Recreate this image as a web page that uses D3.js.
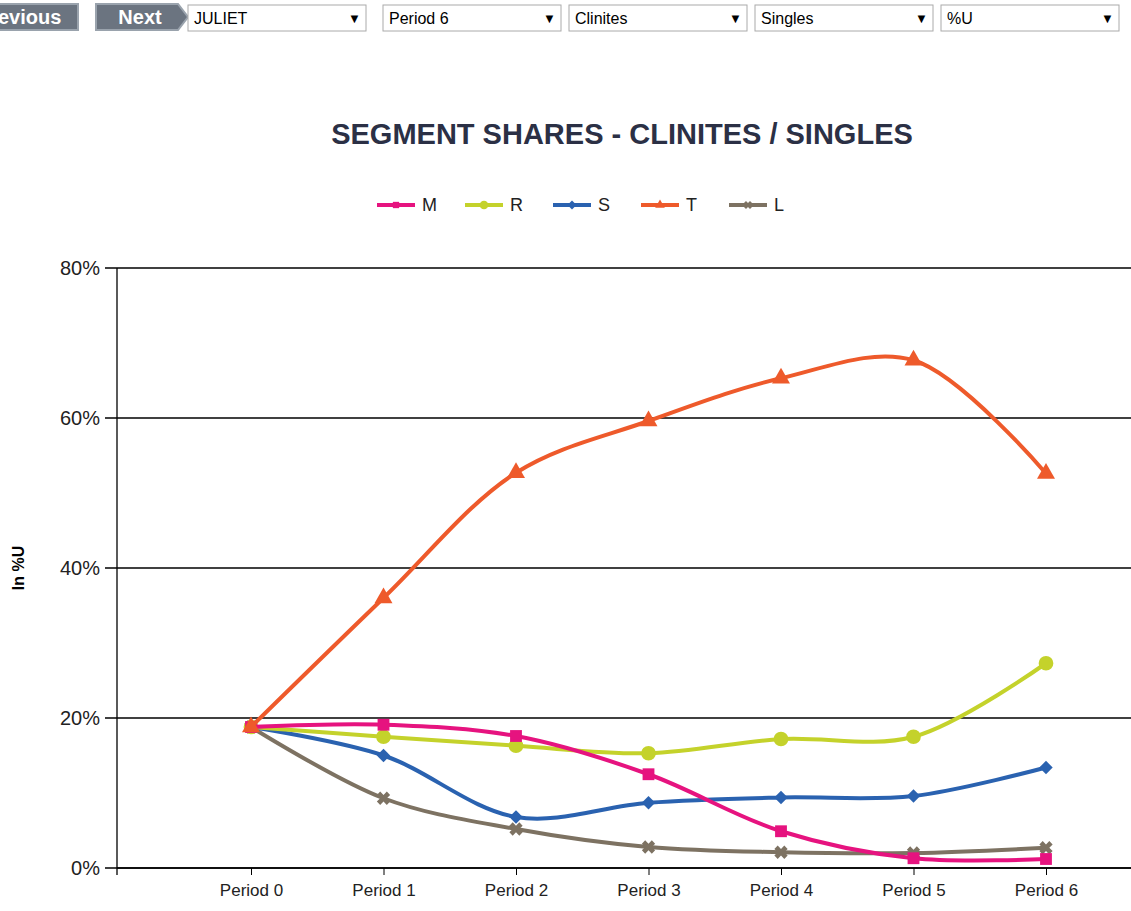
<!DOCTYPE html><html><head><meta charset="utf-8"><script src="https://cdn.jsdelivr.net/npm/d3@7"></script>
<style>body{margin:0;background:#fff;font-family:Arial,"Liberation Sans",sans-serif}</style></head><body><svg id="c" width="1131" height="911"></svg>
<script>
const categories=["Period 0","Period 1","Period 2","Period 3","Period 4","Period 5","Period 6"];
const seriesNames=["M","R","S","T","L"];
const M=[18.8,19.1,17.6,12.5,4.9,1.3,1.2];
const R=[18.8,17.5,16.3,15.3,17.2,17.5,27.3];
const S=[18.8,15.0,6.8,8.7,9.4,9.6,13.4];
const T=[18.8,36.0,52.7,59.6,65.3,67.7,52.6];
const L=[18.8,9.3,5.2,2.8,2.1,2.0,2.7];
const yTicks=[0,20,40,60,80];
const dropdowns=["JULIET","Period 6","Clinites","Singles","%U"];
const colors={M:"#e6137f",R:"#c4d22b",S:"#2a62b0",T:"#ee5a2b",L:"#7d7262"};
const symbols={M:d3.symbolSquare,R:d3.symbolCircle,S:d3.symbolSquare,T:d3.symbolTriangle,L:d3.symbolCross};
const rot={S:45,L:45};
const data={M,R,S,T,L};
const svg=d3.select("#c");
const bg=svg.append("g");
const btn=(x,w,label,arrow)=>{
  const p=arrow?`M${x},4 h${w} l10,13 l-10,13 h-${w} z`:`M${x},4 h${w} v26 h-${w} z`;
  bg.append("path").attr("d",p).attr("fill","#6b7480").attr("stroke","#9aa3ad").attr("stroke-width",2);
  bg.append("text").attr("x",x+w/2+(arrow?3:0)).attr("y",24).attr("text-anchor","middle").attr("fill","#fff").attr("font-weight","bold").attr("font-size",20).text(label);
};
btn(-40,118,"Previous",false);
btn(96,82,"Next",true);
const ddx=[188,383,569,755,941];
dropdowns.forEach((t,i)=>{
  bg.append("rect").attr("x",ddx[i]).attr("y",5).attr("width",178).attr("height",26).attr("fill","#fff").attr("stroke","#aaa");
  bg.append("text").attr("x",ddx[i]+6).attr("y",24).attr("font-size",16).attr("fill","#000").text(t);
  bg.append("text").attr("x",ddx[i]+160).attr("y",23).attr("font-size",13).attr("fill","#000").text("▼");
});
svg.append("text").attr("x",622).attr("y",144).attr("text-anchor","middle").attr("font-size",29).attr("font-weight","bold").attr("fill","#2b3045").text("SEGMENT SHARES - CLINITES / SINGLES");
const lx=[377,465,553,641,729];
seriesNames.forEach((n,i)=>{
  const g=svg.append("g");
  g.append("line").attr("x1",lx[i]).attr("x2",lx[i]+38).attr("y1",205).attr("y2",205).attr("stroke",colors[n]).attr("stroke-width",4);
  g.append("path").attr("transform",`translate(${lx[i]+19},205) rotate(${rot[n]||0})`).attr("d",d3.symbol(symbols[n],n==="R"?60:40)()).attr("fill",colors[n]);
  g.append("text").attr("x",lx[i]+45).attr("y",211).attr("font-size",18).attr("fill","#222").text(n);
});
const x=d3.scalePoint().domain(categories).range([251,1046]);
const y=d3.scaleLinear().domain([0,80]).range([868,268]);
svg.append("g").selectAll("line").data(yTicks).join("line").attr("x1",105).attr("x2",1131).attr("y1",d=>y(d)).attr("y2",d=>y(d)).attr("stroke","#000").attr("stroke-width",1.3);
svg.append("g").selectAll("text").data(yTicks).join("text").attr("x",100).attr("y",d=>y(d)+7).attr("text-anchor","end").attr("font-size",20).attr("fill","#222").text(d=>d+"%");
svg.append("line").attr("x1",117).attr("x2",117).attr("y1",268).attr("y2",875).attr("stroke","#000").attr("stroke-width",1.3);
const xa=svg.append("g").attr("transform","translate(0,868)").call(d3.axisBottom(x).tickSize(7).tickSizeOuter(0));
xa.select(".domain").remove();
xa.selectAll("line").attr("stroke","#000");
xa.selectAll("text").attr("font-size",17).attr("fill","#222").attr("dy","1.05em").attr("font-family","Arial,'Liberation Sans',sans-serif");
svg.append("line").attr("x1",117).attr("x2",1131).attr("y1",868).attr("y2",868).attr("stroke","#000").attr("stroke-width",1.3);
svg.append("text").attr("transform","translate(24,568) rotate(-90)").attr("text-anchor","middle").attr("font-size",16).attr("font-weight","bold").text("In %U");
const line=d3.line().x((d,i)=>x(categories[i])).y(d=>y(d)).curve(d3.curveCatmullRom.alpha(0.5));
["L","S","R","M","T"].forEach(n=>{
  svg.append("path").attr("d",line(data[n])).attr("fill","none").attr("stroke",colors[n]).attr("stroke-width",4);
  svg.append("g").selectAll("path").data(data[n]).join("path")
    .attr("transform",(d,i)=>`translate(${x(categories[i])},${y(d)}) rotate(${rot[n]||0})`)
    .attr("d",d3.symbol(symbols[n],n==="R"?170:n==="L"?110:n==="S"?90:140)()).attr("fill",colors[n]);
});
</script></body></html>
